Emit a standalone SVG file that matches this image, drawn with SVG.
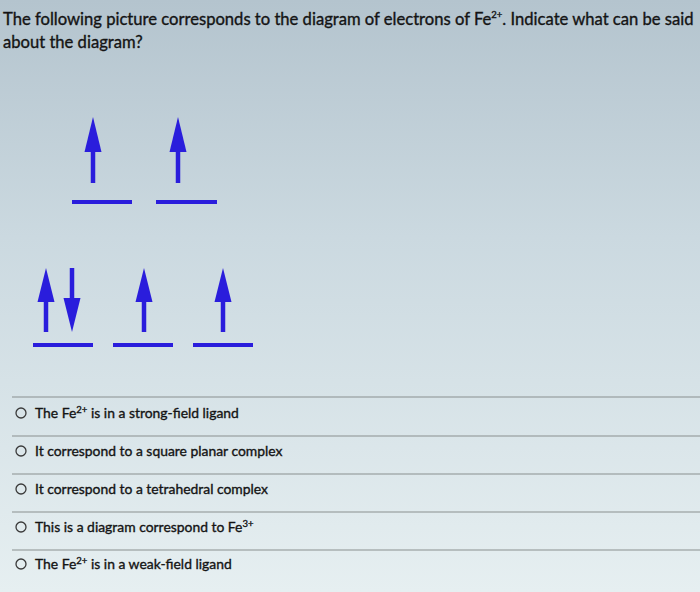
<svg xmlns="http://www.w3.org/2000/svg" width="700" height="592" viewBox="0 0 700 592">
<defs>
<linearGradient id="bg" x1="0" y1="0" x2="0" y2="1">
<stop offset="0" stop-color="#b4c4ce"/>
<stop offset="0.4" stop-color="#cbd9e0"/>
<stop offset="1" stop-color="#e6eff1"/>
</linearGradient>
<style>
.t{font-family:Lato,"Liberation Sans",sans-serif;fill:#141414;stroke:#141414;stroke-width:0.35}
.q{font-size:16.6px}
.o{font-size:13.9px}
.sup{font-size:9.5px}
.lvl{stroke:#2a1ddc;stroke-width:4}
.shaft{stroke:#2a1ddc;stroke-width:4.5}
.head{fill:#2a1ddc}
.sep{stroke:#8a9090;stroke-width:1.2}
.radio{fill:none;stroke:#3a3a3a;stroke-width:1.3}
</style>
</defs>
<rect width="700" height="592" fill="url(#bg)"/>
<g id="question">
<text class="t q" x="3" y="25">The following picture corresponds to the diagram of electrons of Fe<tspan class="sup" dy="-7">2+</tspan><tspan dy="7">. Indicate what can be said</tspan></text>
<text class="t q" x="3" y="48">about the diagram?</text>
</g>
<g id="eg-orbitals">
<line class="lvl" x1="72" y1="202" x2="132" y2="202"/>
<line class="lvl" x1="156" y1="202" x2="217" y2="202"/>
<line class="shaft" x1="93" y1="183" x2="93" y2="145"/>
<polygon class="head" points="93,117 84.5,152 101.5,152"/>
<line class="shaft" x1="178" y1="183" x2="178" y2="145"/>
<polygon class="head" points="178,117 169.5,152 186.5,152"/>
</g>
<g id="t2g-orbitals">
<line class="lvl" x1="33" y1="345" x2="93" y2="345"/>
<line class="lvl" x1="113" y1="345" x2="173" y2="345"/>
<line class="lvl" x1="193" y1="345" x2="253" y2="345"/>
<line class="shaft" x1="46" y1="332" x2="46" y2="295"/>
<polygon class="head" points="46,268 37.5,302 54.5,302"/>
<line class="shaft" x1="72" y1="268" x2="72" y2="305"/>
<polygon class="head" points="72,332 63.5,298 80.5,298"/>
<line class="shaft" x1="144" y1="332" x2="144" y2="295"/>
<polygon class="head" points="144,268 135.5,302 152.5,302"/>
<line class="shaft" x1="223" y1="332" x2="223" y2="295"/>
<polygon class="head" points="223,268 214.5,302 231.5,302"/>
</g>
<g id="separators">
<line class="sep" x1="12" y1="397" x2="700" y2="397"/>
<line class="sep" x1="12" y1="436" x2="700" y2="436"/>
<line class="sep" x1="12" y1="474" x2="700" y2="474"/>
<line class="sep" x1="12" y1="512" x2="700" y2="512"/>
<line class="sep" x1="12" y1="550" x2="700" y2="550"/>
</g>
<g id="option1">
<circle class="radio" cx="21" cy="413" r="5"/>
<text class="t o" x="35" y="418">The Fe<tspan class="sup" dy="-5">2+</tspan><tspan dy="5"> is in a strong-field ligand</tspan></text>
</g>
<g id="option2">
<circle class="radio" cx="21" cy="451" r="5"/>
<text class="t o" x="35" y="456">It correspond to a square planar complex</text>
</g>
<g id="option3">
<circle class="radio" cx="21" cy="489" r="5"/>
<text class="t o" x="35" y="494">It correspond to a tetrahedral complex</text>
</g>
<g id="option4">
<circle class="radio" cx="21" cy="527" r="5"/>
<text class="t o" x="35" y="532">This is a diagram correspond to Fe<tspan class="sup" dy="-5">3+</tspan></text>
</g>
<g id="option5">
<circle class="radio" cx="21" cy="564" r="5"/>
<text class="t o" x="35" y="569">The Fe<tspan class="sup" dy="-5">2+</tspan><tspan dy="5"> is in a weak-field ligand</tspan></text>
</g>
</svg>
